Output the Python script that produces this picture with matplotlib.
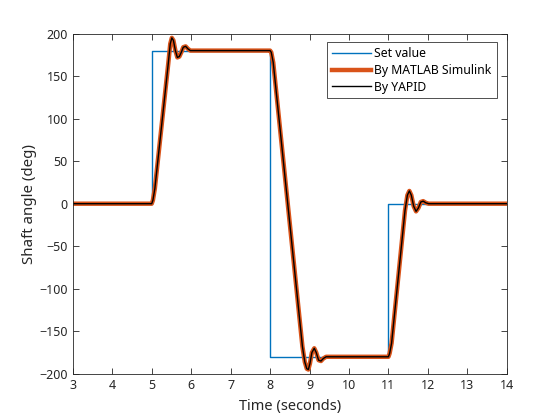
import matplotlib
matplotlib.use("Agg")
import matplotlib.pyplot as plt

# Set value (step signal)
set_t = [3.0, 5.0, 5.0, 8.0, 8.0, 11.0, 11.0, 14.0]
set_v = [0, 0, 180, 180, -180, -180, 0, 0]

# Response
resp_t = [3.0, 5.0, 5.03, 5.08, 5.42, 5.47, 5.51, 5.55, 5.6, 5.65, 5.7, 5.75, 5.8, 5.86, 5.92, 5.98, 6.05,
          8.0, 8.03, 8.08, 8.82, 8.88, 8.93, 8.97, 9.01, 9.06, 9.12, 9.17, 9.23, 9.29, 9.35, 9.42, 9.5,
          11.0, 11.03, 11.08, 11.42, 11.48, 11.53, 11.58, 11.64, 11.7, 11.76, 11.82, 11.88, 11.95, 12.02, 14.0]
resp_v = [0, 0, 4, 18, 165, 188, 195, 192, 180, 172, 173, 178, 184, 185, 182, 180, 180,
          180, 178, 166, -168, -186, -194, -195, -188, -175, -170, -175, -184, -185, -182, -180, -180,
          -180, -176, -164, -8, 10, 15, 10, -3, -9, -5, 2, 3, 1, 0, 0]

yapid_t = resp_t
yapid_v = resp_v

x_ticks = list(range(3, 15))
y_ticks = list(range(-200, 201, 50))

plt.rcParams['font.family'] = ['Noto Sans', 'DejaVu Sans']
fig = plt.figure(figsize=(5.6, 4.2), dpi=100)
ax = fig.add_axes([0.13, 0.11, 0.775, 0.81])

ax.plot(set_t, set_v, color='#0072BD', lw=1.0, label='Set value')
ax.plot(resp_t, resp_v, color='#D95319', lw=3.2, label='By MATLAB Simulink', solid_joinstyle='round')
ax.plot(yapid_t, yapid_v, color='black', lw=1.0, label='By YAPID')

ax.set_xlim(3, 14)
ax.set_ylim(-200, 200)
ax.set_xticks(x_ticks)
ax.set_yticks(y_ticks)
ax.tick_params(direction='in', top=True, right=True, length=4, width=0.6,
               labelsize=9, colors='#262626')
for s in ax.spines.values():
    s.set_linewidth(0.6)
    s.set_color('#262626')
ax.set_xlabel('Time (seconds)', fontsize=10.5, color='#262626', labelpad=5)
ax.set_ylabel('Shaft angle (deg)', fontsize=10.8, color='#262626', labelpad=2)

leg = ax.legend(loc='upper right', bbox_to_anchor=(0.985, 0.985), fontsize=8.8, frameon=True,
                fancybox=False, edgecolor='black', handlelength=3.2, handletextpad=0.3,
                borderpad=0.4, labelspacing=0.3, borderaxespad=0.3)
leg.get_frame().set_linewidth(0.6)

fig.savefig('out.png', dpi=100)
